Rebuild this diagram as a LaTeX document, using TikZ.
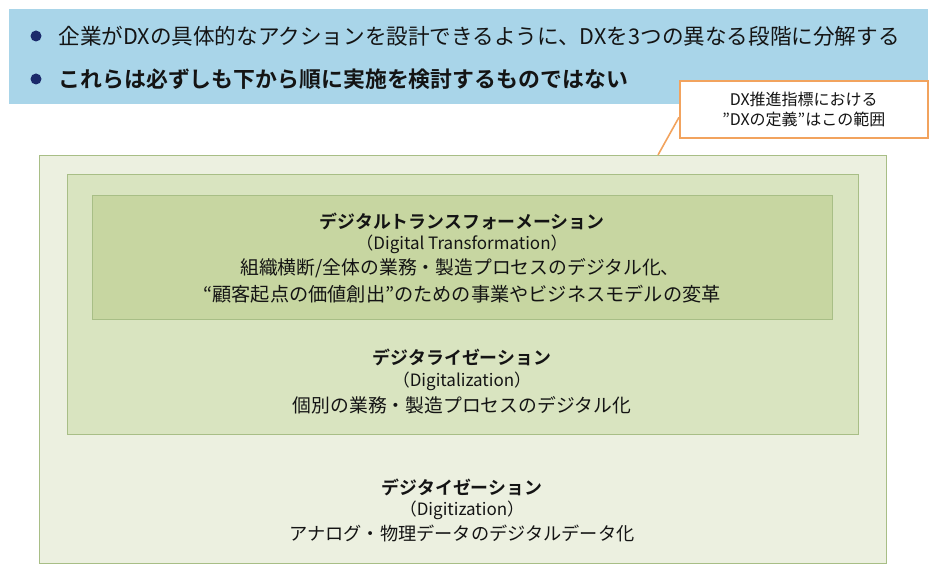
\documentclass[tikz,border=0pt]{standalone}
\usepackage{fontspec}
\setmainfont{Noto Sans CJK JP}[BoldFont={Noto Sans CJK JP Bold}]
\usepackage{xcolor}
\usetikzlibrary{positioning,calc}
\definecolor{bandblue}{HTML}{A9D5E9}
\definecolor{navy}{HTML}{1B2A6B}
\definecolor{ink}{HTML}{141414}
\definecolor{calloutline}{HTML}{F2A35E}
\definecolor{layerline}{HTML}{A8BE86}
\definecolor{outerfill}{HTML}{ECF0E0}
\definecolor{midfill}{HTML}{D9E4C0}
\definecolor{innerfill}{HTML}{C7D6A1}

\begin{document}
\begin{tikzpicture}[x=1pt,y=-1pt,
    layer/.style={draw=layerline, line width=1.3pt, anchor=north west, inner sep=0pt},
    bullet/.style={circle, fill=navy, minimum size=11pt, inner sep=0pt},
    point/.style={anchor=west, text=ink, font=\fontsize{21.6}{24}\selectfont},
    title/.style={text=ink, font=\fontsize{17.9}{20}\selectfont\bfseries},
    english/.style={text=ink, font=\fontsize{17}{19}\selectfont},
    desc/.style={text=ink, font=\fontsize{18.8}{21}\selectfont}]
    \useasboundingbox (0,0) rectangle (940,577);

    % Summary band
    \node[fill=bandblue, anchor=north west, inner sep=0pt, minimum width=919pt, minimum height=95pt] (band) at (9,9) {};
    \node[bullet] (b1) at (36,36) {};
    \node[bullet] (b2) at (36,79) {};
    \node[point] (p1) at (55,36) {企業がDXの具体的なアクションを設計できるように、DXを3つの異なる段階に分解する};
    \node[point, font=\fontsize{21.9}{24}\selectfont\bfseries] (p2) at (55,79) {これらは必ずしも下から順に実施を検討するものではない};

    % Layers
    \node[layer, fill=outerfill, minimum width=847pt, minimum height=408pt] (digitization) at (39,155) {};
    \node[layer, fill=midfill, minimum width=791pt, minimum height=260pt] (digitalization) at (67,174) {};
    \node[layer, fill=innerfill, minimum width=740pt, minimum height=124pt] (transformation) at (92,195) {};

    % Digital Transformation
    \node[title] (dx-title) at (462,221) {デジタルトランスフォーメーション};
    \node[english] (dx-en) at (462,244) {（Digital Transformation）};
    \node[desc] (dx-desc1) at (460,268) {組織横断/全体の業務・製造プロセスのデジタル化、};
    \node[desc, font=\fontsize{19.2}{21}\selectfont] (dx-desc2) at (462,294) {“顧客起点の価値創出”のための事業やビジネスモデルの変革};

    % Digitalization
    \node[title] (dl-title) at (462,357) {デジタライゼーション};
    \node[english] (dl-en) at (462,381) {（Digitalization）};
    \node[desc] (dl-desc) at (462,405) {個別の業務・製造プロセスのデジタル化};

    % Digitization
    \node[title] (dz-title) at (462,487) {デジタイゼーション};
    \node[english] (dz-en) at (462,510) {（Digitization）};
    \node[desc, font=\fontsize{18.2}{21}\selectfont] (dz-desc) at (462,533) {アナログ・物理データのデジタルデータ化};

    % Callout
    \coordinate (lead) at (658,155);
    \node[draw=calloutline, line width=1.6pt, fill=white, anchor=north west, inner sep=0pt,
          minimum width=248pt, minimum height=57pt, align=center, text=ink,
          font=\fontsize{16}{20}\selectfont] (callout) at (679,80) {DX推進指標における\\”DXの定義”はこの範囲};
    \draw[calloutline, line width=1.6pt] (lead) -- ([yshift=-8pt]callout.west);
\end{tikzpicture}
\end{document}
